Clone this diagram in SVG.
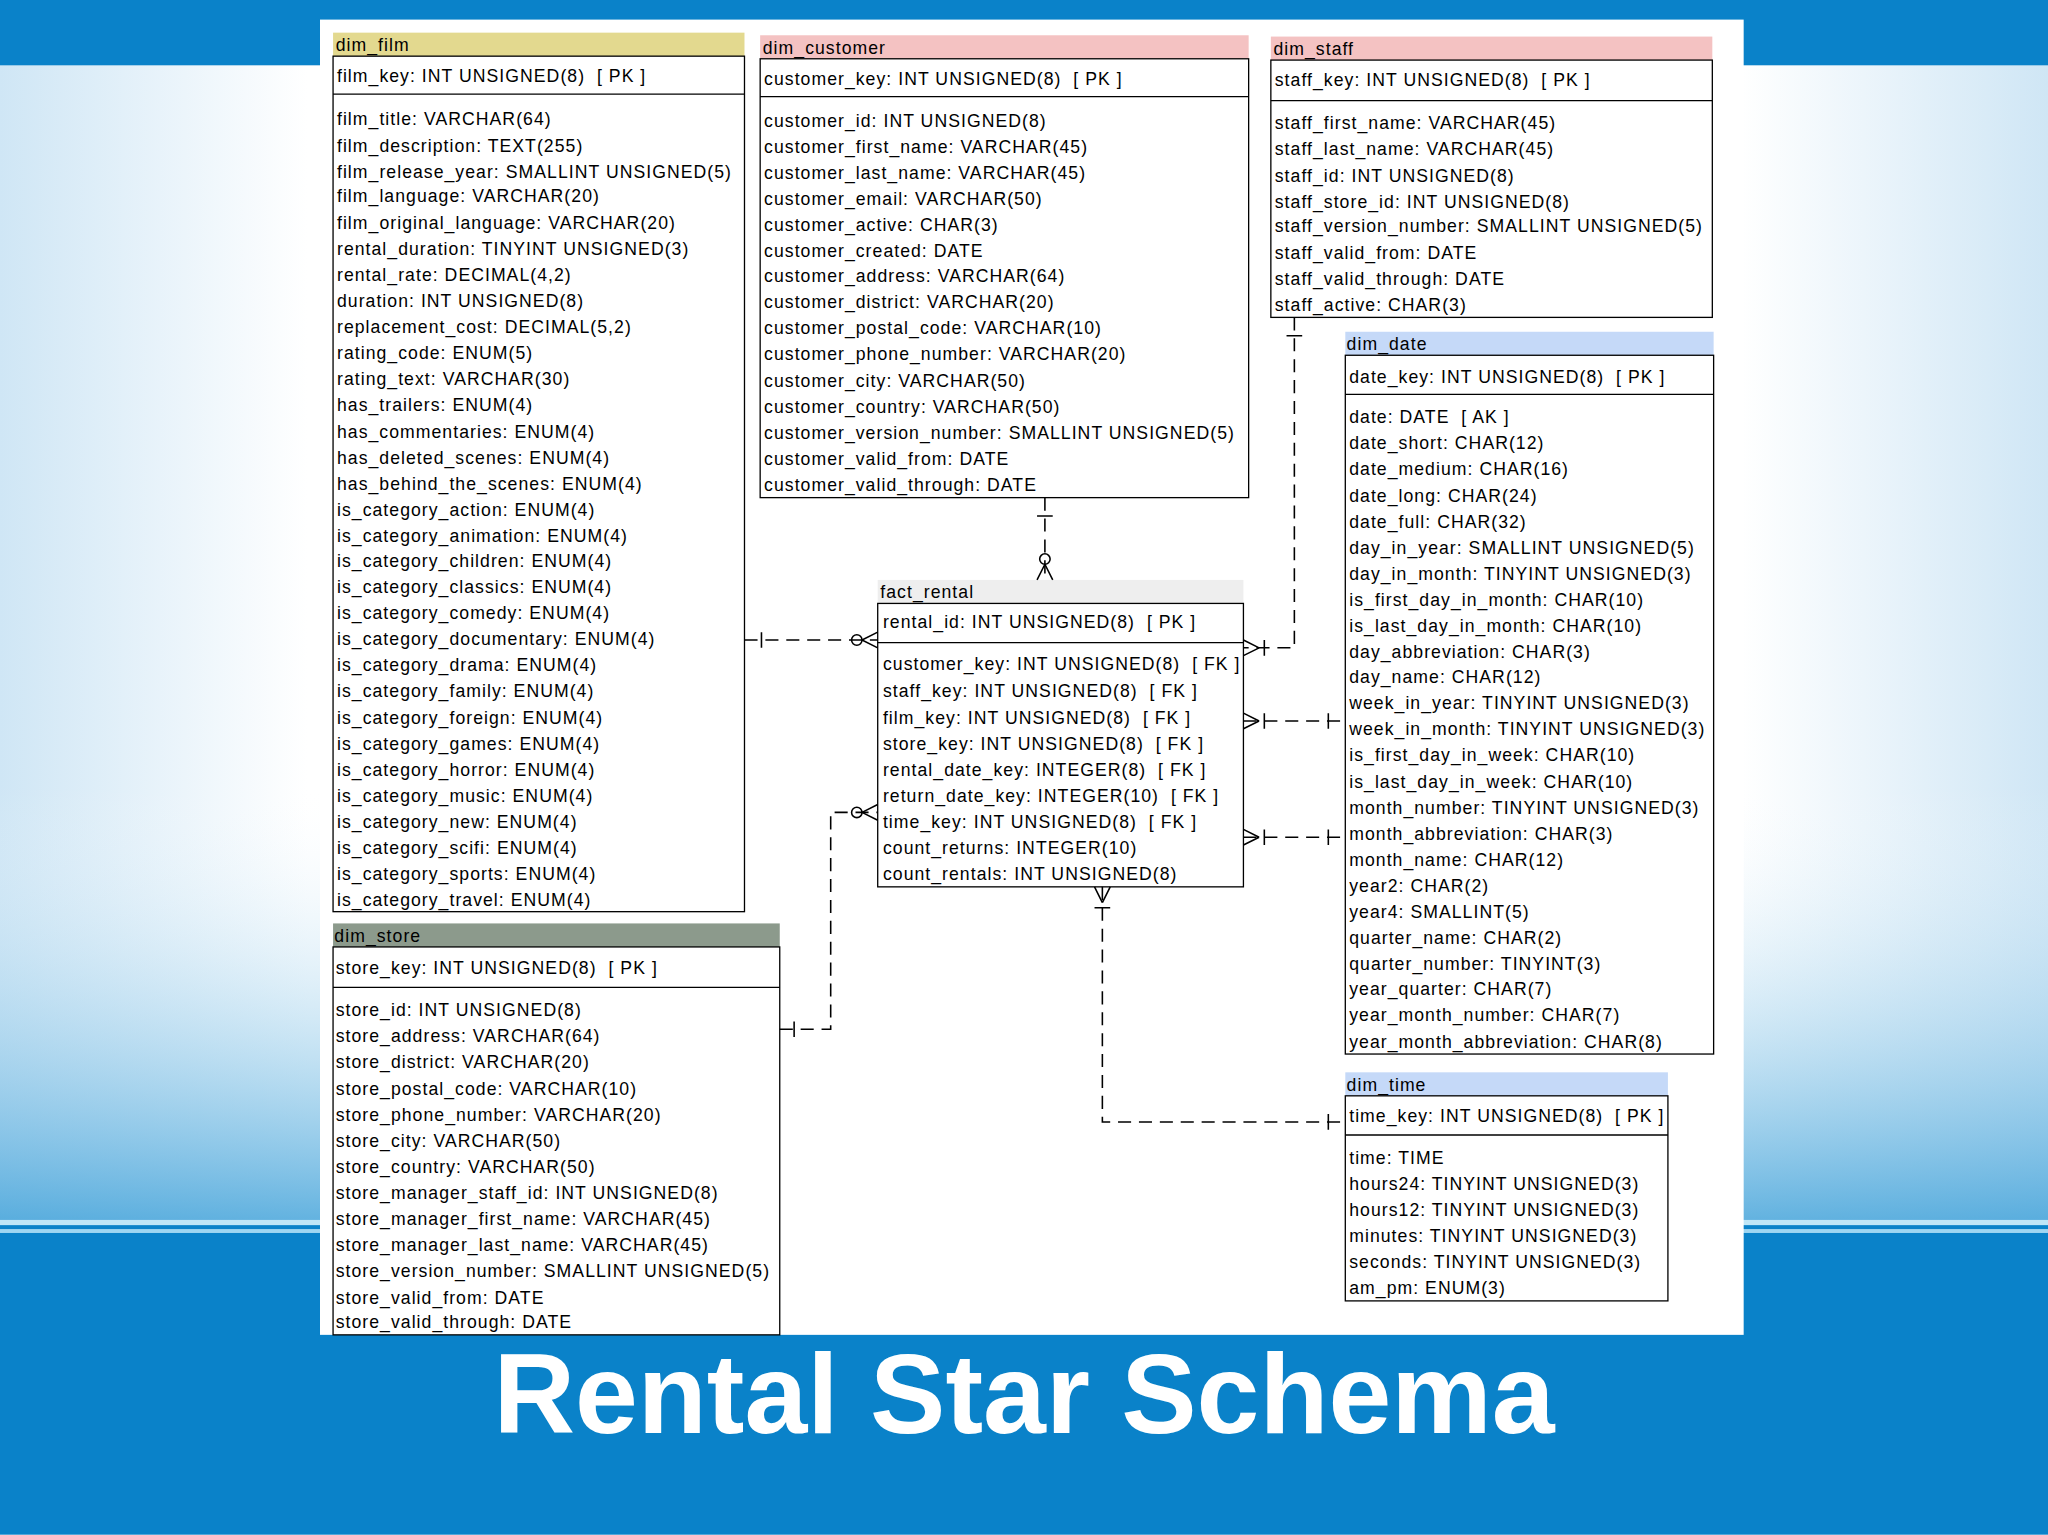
<svg xmlns="http://www.w3.org/2000/svg" width="2048" height="1535" viewBox="0 0 2048 1535">
<defs>
<linearGradient id="bg" x1="0" y1="0" x2="1" y2="0">
<stop offset="0" stop-color="#cfe6f5"/><stop offset="0.15" stop-color="#ffffff"/><stop offset="0.85" stop-color="#ffffff"/><stop offset="1" stop-color="#cfe6f5"/>
</linearGradient>
<linearGradient id="bg2" x1="0" y1="0" x2="0" y2="1">
<stop offset="0" stop-color="#ffffff" stop-opacity="0"/><stop offset="1" stop-color="#3b9fd8" stop-opacity="0.8"/>
</linearGradient>
<style>
.t{font-family:"Liberation Sans",Arial,sans-serif;font-size:13.5px;fill:#000;letter-spacing:0.8px;white-space:pre}
.h{font-family:"Liberation Sans",Arial,sans-serif;font-size:13.5px;fill:#000;letter-spacing:0.8px}
.box{fill:#fff;stroke:#000;stroke-width:1}
.sep{stroke:#000;stroke-width:1}
.c{fill:none;stroke:#000;stroke-width:1.2}
.d{stroke-dasharray:10,6}
</style>
</defs>
<g transform="scale(1.30612)">
<rect x="0" y="0" width="1568" height="1175" fill="#0a82c9"/>
<rect x="0" y="50" width="1568" height="885" fill="url(#bg)"/>
<rect x="0" y="600" width="1568" height="335" fill="url(#bg2)"/>
<rect x="0" y="934" width="1568" height="4" fill="#bfe6f7"/>
<rect x="0" y="941" width="1568" height="3" fill="#9fd6f2"/>
<rect x="245" y="15" width="1090" height="1007" fill="#fff"/>

<g id="dim_film">
<rect x="255" y="25" width="315" height="18" fill="#e3d98f"/>
<text class="h" x="257" y="39">dim_film</text>
<rect class="box" x="255" y="43" width="315" height="655"/>
<line class="sep" x1="255" y1="72" x2="570" y2="72"/>
<text class="t" x="258" y="63">film_key: INT UNSIGNED(8)  [ PK ]</text>
<text class="t" x="258" y="96">film_title: VARCHAR(64)</text>
<text class="t" x="258" y="116">film_description: TEXT(255)</text>
<text class="t" x="258" y="136">film_release_year: SMALLINT UNSIGNED(5)</text>
<text class="t" x="258" y="155">film_language: VARCHAR(20)</text>
<text class="t" x="258" y="175">film_original_language: VARCHAR(20)</text>
<text class="t" x="258" y="195">rental_duration: TINYINT UNSIGNED(3)</text>
<text class="t" x="258" y="215">rental_rate: DECIMAL(4,2)</text>
<text class="t" x="258" y="235">duration: INT UNSIGNED(8)</text>
<text class="t" x="258" y="255">replacement_cost: DECIMAL(5,2)</text>
<text class="t" x="258" y="275">rating_code: ENUM(5)</text>
<text class="t" x="258" y="295">rating_text: VARCHAR(30)</text>
<text class="t" x="258" y="315">has_trailers: ENUM(4)</text>
<text class="t" x="258" y="335">has_commentaries: ENUM(4)</text>
<text class="t" x="258" y="355">has_deleted_scenes: ENUM(4)</text>
<text class="t" x="258" y="375">has_behind_the_scenes: ENUM(4)</text>
<text class="t" x="258" y="395">is_category_action: ENUM(4)</text>
<text class="t" x="258" y="415">is_category_animation: ENUM(4)</text>
<text class="t" x="258" y="434">is_category_children: ENUM(4)</text>
<text class="t" x="258" y="454">is_category_classics: ENUM(4)</text>
<text class="t" x="258" y="474">is_category_comedy: ENUM(4)</text>
<text class="t" x="258" y="494">is_category_documentary: ENUM(4)</text>
<text class="t" x="258" y="514">is_category_drama: ENUM(4)</text>
<text class="t" x="258" y="534">is_category_family: ENUM(4)</text>
<text class="t" x="258" y="554">is_category_foreign: ENUM(4)</text>
<text class="t" x="258" y="574">is_category_games: ENUM(4)</text>
<text class="t" x="258" y="594">is_category_horror: ENUM(4)</text>
<text class="t" x="258" y="614">is_category_music: ENUM(4)</text>
<text class="t" x="258" y="634">is_category_new: ENUM(4)</text>
<text class="t" x="258" y="654">is_category_scifi: ENUM(4)</text>
<text class="t" x="258" y="674">is_category_sports: ENUM(4)</text>
<text class="t" x="258" y="694">is_category_travel: ENUM(4)</text>
</g>

<g id="dim_customer">
<rect x="582" y="27" width="374" height="18" fill="#f4c2c2"/>
<text class="h" x="584" y="41">dim_customer</text>
<rect class="box" x="582" y="45" width="374" height="336"/>
<line class="sep" x1="582" y1="74" x2="956" y2="74"/>
<text class="t" x="585" y="65">customer_key: INT UNSIGNED(8)  [ PK ]</text>
<text class="t" x="585" y="97">customer_id: INT UNSIGNED(8)</text>
<text class="t" x="585" y="117">customer_first_name: VARCHAR(45)</text>
<text class="t" x="585" y="137">customer_last_name: VARCHAR(45)</text>
<text class="t" x="585" y="157">customer_email: VARCHAR(50)</text>
<text class="t" x="585" y="177">customer_active: CHAR(3)</text>
<text class="t" x="585" y="197">customer_created: DATE</text>
<text class="t" x="585" y="216">customer_address: VARCHAR(64)</text>
<text class="t" x="585" y="236">customer_district: VARCHAR(20)</text>
<text class="t" x="585" y="256">customer_postal_code: VARCHAR(10)</text>
<text class="t" x="585" y="276">customer_phone_number: VARCHAR(20)</text>
<text class="t" x="585" y="296">customer_city: VARCHAR(50)</text>
<text class="t" x="585" y="316">customer_country: VARCHAR(50)</text>
<text class="t" x="585" y="336">customer_version_number: SMALLINT UNSIGNED(5)</text>
<text class="t" x="585" y="356">customer_valid_from: DATE</text>
<text class="t" x="585" y="376">customer_valid_through: DATE</text>
</g>

<g id="dim_staff">
<rect x="973" y="28" width="338" height="18" fill="#f4c2c2"/>
<text class="h" x="975" y="42">dim_staff</text>
<rect class="box" x="973" y="46" width="338" height="197"/>
<line class="sep" x1="973" y1="77" x2="1311" y2="77"/>
<text class="t" x="976" y="66">staff_key: INT UNSIGNED(8)  [ PK ]</text>
<text class="t" x="976" y="99">staff_first_name: VARCHAR(45)</text>
<text class="t" x="976" y="119">staff_last_name: VARCHAR(45)</text>
<text class="t" x="976" y="139">staff_id: INT UNSIGNED(8)</text>
<text class="t" x="976" y="159">staff_store_id: INT UNSIGNED(8)</text>
<text class="t" x="976" y="178">staff_version_number: SMALLINT UNSIGNED(5)</text>
<text class="t" x="976" y="198">staff_valid_from: DATE</text>
<text class="t" x="976" y="218">staff_valid_through: DATE</text>
<text class="t" x="976" y="238">staff_active: CHAR(3)</text>
</g>

<g id="dim_date">
<rect x="1030" y="254" width="282" height="18" fill="#c5d9f8"/>
<text class="h" x="1031" y="268">dim_date</text>
<rect class="box" x="1030" y="272" width="282" height="535"/>
<line class="sep" x1="1030" y1="302" x2="1312" y2="302"/>
<text class="t" x="1033" y="293">date_key: INT UNSIGNED(8)  [ PK ]</text>
<text class="t" x="1033" y="324">date: DATE  [ AK ]</text>
<text class="t" x="1033" y="344">date_short: CHAR(12)</text>
<text class="t" x="1033" y="364">date_medium: CHAR(16)</text>
<text class="t" x="1033" y="384">date_long: CHAR(24)</text>
<text class="t" x="1033" y="404">date_full: CHAR(32)</text>
<text class="t" x="1033" y="424">day_in_year: SMALLINT UNSIGNED(5)</text>
<text class="t" x="1033" y="444">day_in_month: TINYINT UNSIGNED(3)</text>
<text class="t" x="1033" y="464">is_first_day_in_month: CHAR(10)</text>
<text class="t" x="1033" y="484">is_last_day_in_month: CHAR(10)</text>
<text class="t" x="1033" y="504">day_abbreviation: CHAR(3)</text>
<text class="t" x="1033" y="523">day_name: CHAR(12)</text>
<text class="t" x="1033" y="543">week_in_year: TINYINT UNSIGNED(3)</text>
<text class="t" x="1033" y="563">week_in_month: TINYINT UNSIGNED(3)</text>
<text class="t" x="1033" y="583">is_first_day_in_week: CHAR(10)</text>
<text class="t" x="1033" y="603">is_last_day_in_week: CHAR(10)</text>
<text class="t" x="1033" y="623">month_number: TINYINT UNSIGNED(3)</text>
<text class="t" x="1033" y="643">month_abbreviation: CHAR(3)</text>
<text class="t" x="1033" y="663">month_name: CHAR(12)</text>
<text class="t" x="1033" y="683">year2: CHAR(2)</text>
<text class="t" x="1033" y="703">year4: SMALLINT(5)</text>
<text class="t" x="1033" y="723">quarter_name: CHAR(2)</text>
<text class="t" x="1033" y="743">quarter_number: TINYINT(3)</text>
<text class="t" x="1033" y="762">year_quarter: CHAR(7)</text>
<text class="t" x="1033" y="782">year_month_number: CHAR(7)</text>
<text class="t" x="1033" y="802">year_month_abbreviation: CHAR(8)</text>
</g>

<g id="dim_time">
<rect x="1030" y="821" width="247" height="18" fill="#c5d9f8"/>
<text class="h" x="1031" y="835">dim_time</text>
<rect class="box" x="1030" y="839" width="247" height="157"/>
<line class="sep" x1="1030" y1="869" x2="1277" y2="869"/>
<text class="t" x="1033" y="859">time_key: INT UNSIGNED(8)  [ PK ]</text>
<text class="t" x="1033" y="891">time: TIME</text>
<text class="t" x="1033" y="911">hours24: TINYINT UNSIGNED(3)</text>
<text class="t" x="1033" y="931">hours12: TINYINT UNSIGNED(3)</text>
<text class="t" x="1033" y="951">minutes: TINYINT UNSIGNED(3)</text>
<text class="t" x="1033" y="971">seconds: TINYINT UNSIGNED(3)</text>
<text class="t" x="1033" y="991">am_pm: ENUM(3)</text>
</g>

<g id="fact_rental">
<rect x="672" y="444" width="280" height="18" fill="#eeeeee"/>
<text class="h" x="674" y="458">fact_rental</text>
<rect class="box" x="672" y="462" width="280" height="217"/>
<line class="sep" x1="672" y1="492" x2="952" y2="492"/>
<text class="t" x="676" y="481">rental_id: INT UNSIGNED(8)  [ PK ]</text>
<text class="t" x="676" y="513">customer_key: INT UNSIGNED(8)  [ FK ]</text>
<text class="t" x="676" y="534">staff_key: INT UNSIGNED(8)  [ FK ]</text>
<text class="t" x="676" y="554">film_key: INT UNSIGNED(8)  [ FK ]</text>
<text class="t" x="676" y="574">store_key: INT UNSIGNED(8)  [ FK ]</text>
<text class="t" x="676" y="594">rental_date_key: INTEGER(8)  [ FK ]</text>
<text class="t" x="676" y="614">return_date_key: INTEGER(10)  [ FK ]</text>
<text class="t" x="676" y="634">time_key: INT UNSIGNED(8)  [ FK ]</text>
<text class="t" x="676" y="654">count_returns: INTEGER(10)</text>
<text class="t" x="676" y="674">count_rentals: INT UNSIGNED(8)</text>
</g>

<g id="dim_store">
<rect x="255" y="707" width="342" height="18" fill="#8c9a8c"/>
<text class="h" x="256" y="721">dim_store</text>
<rect class="box" x="255" y="725" width="342" height="297"/>
<line class="sep" x1="255" y1="756" x2="597" y2="756"/>
<text class="t" x="257" y="746">store_key: INT UNSIGNED(8)  [ PK ]</text>
<text class="t" x="257" y="778">store_id: INT UNSIGNED(8)</text>
<text class="t" x="257" y="798">store_address: VARCHAR(64)</text>
<text class="t" x="257" y="818">store_district: VARCHAR(20)</text>
<text class="t" x="257" y="838">store_postal_code: VARCHAR(10)</text>
<text class="t" x="257" y="858">store_phone_number: VARCHAR(20)</text>
<text class="t" x="257" y="878">store_city: VARCHAR(50)</text>
<text class="t" x="257" y="898">store_country: VARCHAR(50)</text>
<text class="t" x="257" y="918">store_manager_staff_id: INT UNSIGNED(8)</text>
<text class="t" x="257" y="938">store_manager_first_name: VARCHAR(45)</text>
<text class="t" x="257" y="958">store_manager_last_name: VARCHAR(45)</text>
<text class="t" x="257" y="978">store_version_number: SMALLINT UNSIGNED(5)</text>
<text class="t" x="257" y="998">store_valid_from: DATE</text>
<text class="t" x="257" y="1017">store_valid_through: DATE</text>
</g>

<g id="connectors">
<path class="c d" d="M570,490 H672"/>
<path class="c" d="M583,484 V496 M660,490 L672,484 M660,490 L672,496"/><circle class="c" cx="656" cy="490" r="4"/>
<path class="c d" d="M800,381 V444"/>
<path class="c" d="M794,395 H806 M800,432 L794,444 M800,432 L806,444"/><circle class="c" cx="800" cy="428" r="4"/>
<path class="c d" d="M991,243 V496 H952"/>
<path class="c" d="M985,257 H997 M964,496 L952,490 M964,496 L952,502 M968,490 V502"/>
<path class="c d" d="M952,552 H1030"/>
<path class="c" d="M1017,546 V558 M964,552 L952,546 M964,552 L952,558 M968,546 V558"/>
<path class="c d" d="M952,641 H1030"/>
<path class="c" d="M1017,635 V647 M964,641 L952,635 M964,641 L952,647 M968,635 V647"/>
<path class="c d" d="M597,788 H636 V622 H672"/>
<path class="c" d="M608,782 V794 M660,622 L672,616 M660,622 L672,628"/><circle class="c" cx="656" cy="622" r="4"/>
<path class="c d" d="M844,679 V859 H1030"/>
<path class="c" d="M1017,853 V865 M844,691 L838,679 M844,691 L850,679 M838,695 H850"/>
</g>

<text x="784" y="1097" text-anchor="middle" font-family="Liberation Sans,Arial,sans-serif" font-weight="bold" font-size="86.5" fill="#fff">Rental Star Schema</text>
</g>
</svg>
